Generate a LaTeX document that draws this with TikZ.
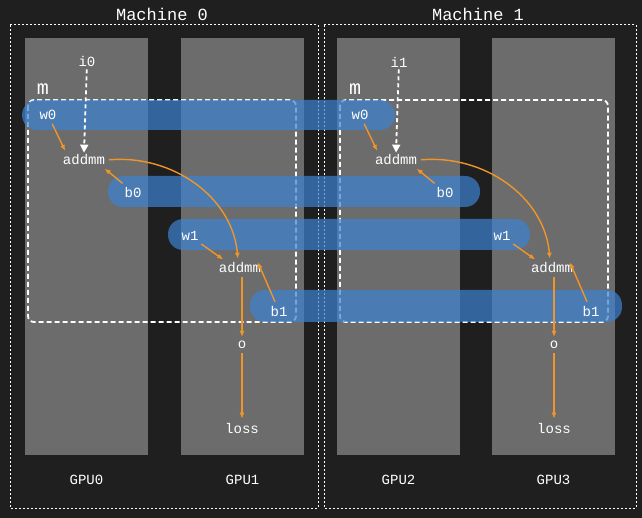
\documentclass[tikz,border=0pt]{standalone}
\usepackage{fontspec}
\setmainfont{Liberation Mono}
\usetikzlibrary{arrows.meta}
\begin{document}
\begin{tikzpicture}[x=1pt,y=-1pt,
  lbl/.style={text=white,font=\fontsize{14}{15}\selectfont,inner sep=2pt},
  big/.style={text=white,font=\fontsize{17}{18}\selectfont,inner sep=1pt},
  bar/.style={fill={rgb,255:red,60;green,130;blue,210},fill opacity=0.7,draw=none,rounded corners=15pt},
  dbox/.style={draw=white,line width=1pt,dash pattern=on 2pt off 2pt},
  mbox/.style={draw=white,line width=1.8pt,dash pattern=on 5pt off 3pt,rounded corners=6pt},
  arr/.style={draw={rgb,255:red,240;green,150;blue,40},line width=1.4pt,shorten >=2pt,shorten <=2pt,-{Latex[length=6pt,width=5pt]}}]
\fill[black!88] (0,0) rectangle (642,518);
\useasboundingbox (0,0) rectangle (642,518);
\draw[dbox] (10,25) rectangle (318,508);
\draw[dbox] (324,25) rectangle (636,508);
\node[big] (t0) at (162,14) {Machine 0};
\node[big] (t1) at (478,14) {Machine 1};
\foreach \x/\n in {25/GPU0,181/GPU1,337/GPU2,492/GPU3}{
  \fill[gray!85!black] (\x,38) rectangle ++(123,417);
  \node[lbl] at (\x+61.5,480) {\n};
}
\foreach \s/\i in {0/0,312/1}{
\begin{scope}[xshift=\s]
  \draw[mbox] (28,100) rectangle (296,322);
  \node[big,font=\fontsize{20}{20}\selectfont] (m\i) at (43,89) {m};
\end{scope}}
\fill[bar] (22,100) rectangle (395,130);
\fill[bar] (108,176) rectangle (480,207);
\fill[bar] (168,219) rectangle (530,250);
\fill[bar] (250,290) rectangle (622,322);
\foreach \s/\i in {0/0,312/1}{
\begin{scope}[xshift=\s]
  \node[lbl] (i\i) at (87,62) {i\i};
  \node[lbl] (wa\i) at (48,115) {w0};
  \node[lbl] (ad\i) at (84,160) {addmm};
  \node[lbl] (ba\i) at (133,192) {b0};
  \node[lbl] (wb\i) at (190,236) {w1};
  \node[lbl] (ae\i) at (240,268) {addmm};
  \node[lbl] (bb\i) at (279,311) {b1};
  \node[lbl] (o\i) at (242,345) {o};
  \node[lbl] (l\i) at (242,428) {loss};
\end{scope}
  \draw[white,line width=1.8pt,dash pattern=on 4pt off 3pt,-{Triangle[length=8pt,width=8pt]}] (i\i) -- (ad\i.north);
  \draw[arr] (wa\i) -- ([xshift=-18pt]ad\i.north);
  \draw[arr] (ba\i) -- ([xshift=-4pt]ad\i.south east);
  \draw[arr] (ad\i.east) to[out=5,in=95] ([xshift=-2pt]ae\i.north);
  \draw[arr] (wb\i) -- ([xshift=8pt]ae\i.north west);
  \draw[arr] (bb\i) -- ([xshift=-6pt]ae\i.north east);
  \draw[arr] (o\i|-ae\i.south) -- (o\i);
  \draw[arr] (o\i) -- (l\i);
}
\end{tikzpicture}
\end{document}
